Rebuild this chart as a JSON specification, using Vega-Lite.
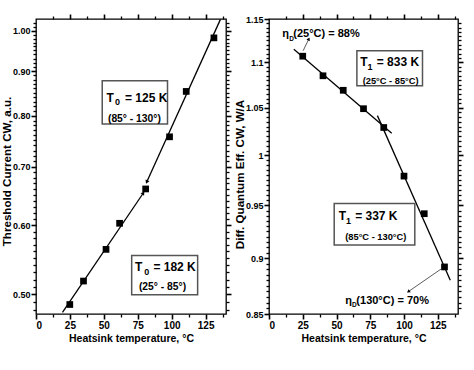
{
  "$schema": "https://vega.github.io/schema/vega-lite/v6.json",
  "background": "white",
  "padding": {"left": 0, "top": 12, "right": 0, "bottom": 0},
  "spacing": 0,
  "config": {
    "font": "Liberation Sans",
    "view": {"stroke": "black", "strokeWidth": 1.3},
    "axis": {
      "domain": false, "grid": false, "ticks": true,
      "labelFont": "Liberation Sans", "labelFontWeight": "bold", "labelFontSize": 10, "labelColor": "black",
      "titleFont": "Liberation Sans", "titleFontWeight": "bold", "titleColor": "black"
    },
    "text": {"font": "Liberation Sans", "fontWeight": "bold", "color": "black"}
  },
  "hconcat": [
    {
      "width": 190, "height": 295,
      "resolve": {"axis": {"x": "independent", "y": "independent"}},
      "layer": [
        {
          "data": {"values": [
            {"x": 24.9, "y": 0.487}, {"x": 35, "y": 0.518}, {"x": 51.6, "y": 0.563}, {"x": 61.6, "y": 0.603},
            {"x": 80.8, "y": 0.660}, {"x": 98.4, "y": 0.757}, {"x": 110.7, "y": 0.853}, {"x": 131.1, "y": 0.982}
          ]},
          "mark": {"type": "square", "filled": true, "color": "black", "size": 45, "opacity": 1},
          "encoding": {
            "x": {"field": "x", "type": "quantitative", "scale": {"domain": [0, 140], "nice": false, "zero": false},
              "axis": {"orient": "bottom", "values": [0, 25, 50, 75, 100, 125], "ticks": true, "tickColor": "#000000", "tickWidth": 1.6, "tickSize": 5, "labelPadding": 1,
                "title": "Heatsink temperature, °C", "titleFontSize": 10.5, "titlePadding": 3}},
            "y": {"field": "y", "type": "quantitative", "scale": {"type": "log", "domain": [0.475, 1.032], "nice": false},
              "axis": {"orient": "left", "values": [0.5, 0.6, 0.7, 0.8, 0.9, 1.0], "format": ".2f", "ticks": true, "tickColor": "#000000", "tickWidth": 1.6, "tickSize": 5, "labelPadding": 1, "labelFontSize": 9,
                "title": "Threshold Current CW, a.u.", "titleFontSize": 11.6, "titlePadding": 0, "titleY": 152}}
          }
        },
        {
          "data": {"values": [{"x": 24.9, "y": 0.487}, {"x": 131.1, "y": 0.982}]},
          "mark": {"type": "point", "opacity": 0},
          "encoding": {
            "x": {"field": "x", "type": "quantitative", "scale": {"domain": [0, 140], "nice": false, "zero": false},
              "axis": {"orient": "bottom", "values": [12.5, 37.5, 62.5, 87.5, 112.5, 137.5], "ticks": true, "tickColor": "#000000", "tickWidth": 1.3, "tickSize": 3, "labels": false, "title": null}},
            "y": {"field": "y", "type": "quantitative", "scale": {"type": "log", "domain": [0.475, 1.032], "nice": false},
              "axis": {"orient": "left", "values": [0.48, 0.49, 0.51, 0.52, 0.53, 0.54, 0.55, 0.56, 0.57, 0.58, 0.59, 0.61, 0.62, 0.63, 0.64, 0.65, 0.66, 0.67, 0.68, 0.69, 0.71, 0.72, 0.73, 0.74, 0.75, 0.76, 0.77, 0.78, 0.79, 0.81, 0.82, 0.83, 0.84, 0.85, 0.86, 0.87, 0.88, 0.89, 0.91, 0.92, 0.93, 0.94, 0.95, 0.96, 0.97, 0.98, 0.99, 1.01, 1.02], "ticks": true, "tickColor": "#000000", "tickWidth": 1.3, "tickSize": 3, "labels": false, "title": null}}
          }
        },
        {
          "data": {"values": [{"x": 24.9, "y": 0.487}, {"x": 131.1, "y": 0.982}]},
          "mark": {"type": "point", "opacity": 0},
          "encoding": {
            "x": {"field": "x", "type": "quantitative", "scale": {"domain": [0, 140], "nice": false, "zero": false},
              "axis": {"orient": "top", "values": [25, 50, 75, 100, 125], "ticks": true, "tickColor": "#000000", "tickWidth": 1.6, "tickSize": 5, "labels": false, "title": null}},
            "y": {"field": "y", "type": "quantitative", "scale": {"type": "log", "domain": [0.475, 1.032], "nice": false},
              "axis": {"orient": "right", "values": [0.5, 0.6, 0.7, 0.8, 0.9, 1.0], "ticks": true, "tickColor": "#000000", "tickWidth": 1.6, "tickSize": 5, "labels": false, "title": null}}
          }
        },
        {
          "data": {"values": [{"x": 24.9, "y": 0.487}, {"x": 131.1, "y": 0.982}]},
          "mark": {"type": "point", "opacity": 0},
          "encoding": {
            "x": {"field": "x", "type": "quantitative", "scale": {"domain": [0, 140], "nice": false, "zero": false},
              "axis": {"orient": "top", "values": [12.5, 37.5, 62.5, 87.5, 112.5, 137.5], "ticks": true, "tickColor": "#000000", "tickWidth": 1.3, "tickSize": 3, "labels": false, "title": null}},
            "y": {"field": "y", "type": "quantitative", "scale": {"type": "log", "domain": [0.475, 1.032], "nice": false},
              "axis": {"orient": "right", "values": [0.48, 0.49, 0.51, 0.52, 0.53, 0.54, 0.55, 0.56, 0.57, 0.58, 0.59, 0.61, 0.62, 0.63, 0.64, 0.65, 0.66, 0.67, 0.68, 0.69, 0.71, 0.72, 0.73, 0.74, 0.75, 0.76, 0.77, 0.78, 0.79, 0.81, 0.82, 0.83, 0.84, 0.85, 0.86, 0.87, 0.88, 0.89, 0.91, 0.92, 0.93, 0.94, 0.95, 0.96, 0.97, 0.98, 0.99, 1.01, 1.02], "ticks": true, "tickColor": "#000000", "tickWidth": 1.3, "tickSize": 3, "labels": false, "title": null}}
          }
        },
        {
          "data": {"values": [
            {"seg": "a", "x": 19.5, "y": 0.477}, {"seg": "a", "x": 79.1, "y": 0.653},
            {"seg": "b", "x": 81.6, "y": 0.672}, {"seg": "b", "x": 135.9, "y": 1.031}
          ]},
          "mark": {"type": "line", "color": "black", "strokeWidth": 1.3},
          "encoding": {
            "x": {"field": "x", "type": "quantitative", "scale": {"domain": [0, 140], "nice": false, "zero": false}, "axis": null},
            "y": {"field": "y", "type": "quantitative", "scale": {"type": "log", "domain": [0.475, 1.032], "nice": false}, "axis": null},
            "detail": {"field": "seg"}
          }
        },
        {
          "data": {"values": [{"x": 79.1, "y": 0.653}]},
          "mark": {"type": "point", "shape": "triangle-up", "filled": true, "color": "black", "size": 18, "angle": 34, "opacity": 1},
          "encoding": {
            "x": {"field": "x", "type": "quantitative", "scale": {"domain": [0, 140], "nice": false, "zero": false}, "axis": null},
            "y": {"field": "y", "type": "quantitative", "scale": {"type": "log", "domain": [0.475, 1.032], "nice": false}, "axis": null}
          }
        },
        {
          "data": {"values": [{"x": 81.6, "y": 0.672}]},
          "mark": {"type": "point", "shape": "triangle-up", "filled": true, "color": "black", "size": 18, "angle": 204, "opacity": 1},
          "encoding": {
            "x": {"field": "x", "type": "quantitative", "scale": {"domain": [0, 140], "nice": false, "zero": false}, "axis": null},
            "y": {"field": "y", "type": "quantitative", "scale": {"type": "log", "domain": [0.475, 1.032], "nice": false}, "axis": null}
          }
        },
        {
          "data": {"values": [
            {"x": 48.8, "x2": 96.9, "y": 0.783, "y2": 0.877},
            {"x": 70.5, "x2": 119.1, "y": 0.4997, "y2": 0.554}
          ]},
          "mark": {"type": "rect", "fill": "white", "stroke": "#555555", "strokeWidth": 1.5},
          "encoding": {
            "x": {"field": "x", "type": "quantitative", "scale": {"domain": [0, 140], "nice": false, "zero": false}, "axis": null},
            "x2": {"field": "x2"},
            "y": {"field": "y", "type": "quantitative", "scale": {"type": "log", "domain": [0.475, 1.032], "nice": false}, "axis": null},
            "y2": {"field": "y2"}
          }
        },
        {
          "data": {"values": [
            {"x": 52.0, "y": 0.839, "t": "T"}, {"x": 65.6, "y": 0.839, "t": "= 125 K"},
            {"x": 73.0, "y": 0.537, "t": "T"}, {"x": 86.5, "y": 0.537, "t": "= 182 K"}
          ]},
          "mark": {"type": "text", "fontSize": 12, "align": "left", "baseline": "middle"},
          "encoding": {
            "x": {"field": "x", "type": "quantitative", "scale": {"domain": [0, 140], "nice": false, "zero": false}, "axis": null},
            "y": {"field": "y", "type": "quantitative", "scale": {"type": "log", "domain": [0.475, 1.032], "nice": false}, "axis": null},
            "text": {"field": "t"}
          }
        },
        {
          "data": {"values": [
            {"x": 58.2, "y": 0.830, "t": "0"}, {"x": 79.7, "y": 0.531, "t": "0"}
          ]},
          "mark": {"type": "text", "fontSize": 9, "align": "left", "baseline": "middle"},
          "encoding": {
            "x": {"field": "x", "type": "quantitative", "scale": {"domain": [0, 140], "nice": false, "zero": false}, "axis": null},
            "y": {"field": "y", "type": "quantitative", "scale": {"type": "log", "domain": [0.475, 1.032], "nice": false}, "axis": null},
            "text": {"field": "t"}
          }
        },
        {
          "data": {"values": [
            {"x": 72.5, "y": 0.794, "t": "(85° - 130°)"}, {"x": 93.2, "y": 0.5098, "t": "(25° - 85°)"}
          ]},
          "mark": {"type": "text", "fontSize": 10.3, "align": "center", "baseline": "middle"},
          "encoding": {
            "x": {"field": "x", "type": "quantitative", "scale": {"domain": [0, 140], "nice": false, "zero": false}, "axis": null},
            "y": {"field": "y", "type": "quantitative", "scale": {"type": "log", "domain": [0.475, 1.032], "nice": false}, "axis": null},
            "text": {"field": "t"}
          }
        }
      ]
    },
    {
      "width": 189, "height": 295,
      "resolve": {"axis": {"x": "independent", "y": "independent"}},
      "layer": [
        {
          "data": {"values": [
            {"x": 25, "y": 1.107}, {"x": 40, "y": 1.085}, {"x": 55, "y": 1.069}, {"x": 70, "y": 1.049},
            {"x": 85, "y": 1.029}, {"x": 100, "y": 0.979}, {"x": 115, "y": 0.942}, {"x": 130, "y": 0.892}
          ]},
          "mark": {"type": "square", "filled": true, "color": "black", "size": 45, "opacity": 1},
          "encoding": {
            "x": {"field": "x", "type": "quantitative", "scale": {"domain": [0, 140], "nice": false, "zero": false},
              "axis": {"orient": "bottom", "values": [0, 25, 50, 75, 100, 125], "ticks": true, "tickColor": "#000000", "tickWidth": 1.6, "tickSize": 5, "labelPadding": 1,
                "title": "Heatsink temperature, °C", "titleFontSize": 10.5, "titlePadding": 3}},
            "y": {"field": "y", "type": "quantitative", "scale": {"type": "log", "domain": [0.85, 1.15], "nice": false},
              "axis": {"orient": "left", "values": [0.85, 0.9, 0.95, 1, 1.05, 1.1, 1.15], "format": "~g", "ticks": true, "tickColor": "#000000", "tickWidth": 1.6, "tickSize": 5, "labelPadding": 1, "labelFontSize": 9,
                "title": "Diff. Quantum Eff. CW, W/A", "titleFontSize": 11.6, "titlePadding": 0, "titleY": 155}}
          }
        },
        {
          "data": {"values": [{"x": 25, "y": 1.107}, {"x": 130, "y": 0.892}]},
          "mark": {"type": "point", "opacity": 0},
          "encoding": {
            "x": {"field": "x", "type": "quantitative", "scale": {"domain": [0, 140], "nice": false, "zero": false},
              "axis": {"orient": "bottom", "values": [12.5, 37.5, 62.5, 87.5, 112.5, 137.5], "ticks": true, "tickColor": "#000000", "tickWidth": 1.3, "tickSize": 3, "labels": false, "title": null}},
            "y": {"field": "y", "type": "quantitative", "scale": {"type": "log", "domain": [0.85, 1.15], "nice": false},
              "axis": {"orient": "left", "values": [0.855, 0.86, 0.865, 0.87, 0.875, 0.88, 0.885, 0.89, 0.895, 0.905, 0.91, 0.915, 0.92, 0.925, 0.93, 0.935, 0.94, 0.945, 0.955, 0.96, 0.965, 0.97, 0.975, 0.98, 0.985, 0.99, 0.995, 1.005, 1.01, 1.015, 1.02, 1.025, 1.03, 1.035, 1.04, 1.045, 1.055, 1.06, 1.065, 1.07, 1.075, 1.08, 1.085, 1.09, 1.095, 1.105, 1.11, 1.115, 1.12, 1.125, 1.13, 1.135, 1.14, 1.145], "ticks": true, "tickColor": "#000000", "tickWidth": 1.3, "tickSize": 3, "labels": false, "title": null}}
          }
        },
        {
          "data": {"values": [{"x": 25, "y": 1.107}, {"x": 130, "y": 0.892}]},
          "mark": {"type": "point", "opacity": 0},
          "encoding": {
            "x": {"field": "x", "type": "quantitative", "scale": {"domain": [0, 140], "nice": false, "zero": false},
              "axis": {"orient": "top", "values": [25, 50, 75, 100, 125], "ticks": true, "tickColor": "#000000", "tickWidth": 1.6, "tickSize": 5, "labels": false, "title": null}},
            "y": {"field": "y", "type": "quantitative", "scale": {"type": "log", "domain": [0.85, 1.15], "nice": false},
              "axis": {"orient": "right", "values": [0.9, 0.95, 1, 1.05, 1.1], "ticks": true, "tickColor": "#000000", "tickWidth": 1.6, "tickSize": 5, "labels": false, "title": null}}
          }
        },
        {
          "data": {"values": [{"x": 25, "y": 1.107}, {"x": 130, "y": 0.892}]},
          "mark": {"type": "point", "opacity": 0},
          "encoding": {
            "x": {"field": "x", "type": "quantitative", "scale": {"domain": [0, 140], "nice": false, "zero": false},
              "axis": {"orient": "top", "values": [12.5, 37.5, 62.5, 87.5, 112.5, 137.5], "ticks": true, "tickColor": "#000000", "tickWidth": 1.3, "tickSize": 3, "labels": false, "title": null}},
            "y": {"field": "y", "type": "quantitative", "scale": {"type": "log", "domain": [0.85, 1.15], "nice": false},
              "axis": {"orient": "right", "values": [0.855, 0.86, 0.865, 0.87, 0.875, 0.88, 0.885, 0.89, 0.895, 0.905, 0.91, 0.915, 0.92, 0.925, 0.93, 0.935, 0.94, 0.945, 0.955, 0.96, 0.965, 0.97, 0.975, 0.98, 0.985, 0.99, 0.995, 1.005, 1.01, 1.015, 1.02, 1.025, 1.03, 1.035, 1.04, 1.045, 1.055, 1.06, 1.065, 1.07, 1.075, 1.08, 1.085, 1.09, 1.095, 1.105, 1.11, 1.115, 1.12, 1.125, 1.13, 1.135, 1.14, 1.145], "ticks": true, "tickColor": "#000000", "tickWidth": 1.3, "tickSize": 3, "labels": false, "title": null}}
          }
        },
        {
          "data": {"values": [
            {"seg": "a", "x": 18.4, "y": 1.115}, {"seg": "a", "x": 90.9, "y": 1.023},
            {"seg": "b", "x": 80.3, "y": 1.0416}, {"seg": "b", "x": 134.3, "y": 0.880}
          ]},
          "mark": {"type": "line", "color": "black", "strokeWidth": 1.3},
          "encoding": {
            "x": {"field": "x", "type": "quantitative", "scale": {"domain": [0, 140], "nice": false, "zero": false}, "axis": null},
            "y": {"field": "y", "type": "quantitative", "scale": {"type": "log", "domain": [0.85, 1.15], "nice": false}, "axis": null},
            "detail": {"field": "seg"}
          }
        },
        {
          "data": {"values": [
            {"seg": "a", "x": 25.3, "y": 1.1132}, {"seg": "a", "x": 29.5, "y": 1.1267},
            {"seg": "b", "x": 103.2, "y": 0.8697}, {"seg": "b", "x": 127.7, "y": 0.8903}
          ]},
          "mark": {"type": "line", "color": "#333333", "strokeWidth": 0.8},
          "encoding": {
            "x": {"field": "x", "type": "quantitative", "scale": {"domain": [0, 140], "nice": false, "zero": false}, "axis": null},
            "y": {"field": "y", "type": "quantitative", "scale": {"type": "log", "domain": [0.85, 1.15], "nice": false}, "axis": null},
            "detail": {"field": "seg"}
          }
        },
        {
          "data": {"values": [{"x": 29.5, "y": 1.1267}]},
          "mark": {"type": "point", "shape": "triangle-up", "filled": true, "color": "black", "size": 14, "angle": 26, "opacity": 1},
          "encoding": {
            "x": {"field": "x", "type": "quantitative", "scale": {"domain": [0, 140], "nice": false, "zero": false}, "axis": null},
            "y": {"field": "y", "type": "quantitative", "scale": {"type": "log", "domain": [0.85, 1.15], "nice": false}, "axis": null}
          }
        },
        {
          "data": {"values": [{"x": 103.2, "y": 0.8697}]},
          "mark": {"type": "point", "shape": "triangle-up", "filled": true, "color": "black", "size": 14, "angle": 235, "opacity": 1},
          "encoding": {
            "x": {"field": "x", "type": "quantitative", "scale": {"domain": [0, 140], "nice": false, "zero": false}, "axis": null},
            "y": {"field": "y", "type": "quantitative", "scale": {"type": "log", "domain": [0.85, 1.15], "nice": false}, "axis": null}
          }
        },
        {
          "data": {"values": [
            {"x": 65.1, "x2": 113.7, "y": 1.074, "y2": 1.1133},
            {"x": 48.3, "x2": 108, "y": 0.9123, "y2": 0.952}
          ]},
          "mark": {"type": "rect", "fill": "white", "stroke": "#555555", "strokeWidth": 1.5},
          "encoding": {
            "x": {"field": "x", "type": "quantitative", "scale": {"domain": [0, 140], "nice": false, "zero": false}, "axis": null},
            "x2": {"field": "x2"},
            "y": {"field": "y", "type": "quantitative", "scale": {"type": "log", "domain": [0.85, 1.15], "nice": false}, "axis": null},
            "y2": {"field": "y2"}
          }
        },
        {
          "data": {"values": [
            {"x": 67.5, "y": 1.1, "t": "T"}, {"x": 79.8, "y": 1.1, "t": "= 833 K"},
            {"x": 51.6, "y": 0.9396, "t": "T"}, {"x": 63.8, "y": 0.9396, "t": "= 337 K"}
          ]},
          "mark": {"type": "text", "fontSize": 12, "align": "left", "baseline": "middle"},
          "encoding": {
            "x": {"field": "x", "type": "quantitative", "scale": {"domain": [0, 140], "nice": false, "zero": false}, "axis": null},
            "y": {"field": "y", "type": "quantitative", "scale": {"type": "log", "domain": [0.85, 1.15], "nice": false}, "axis": null},
            "text": {"field": "t"}
          }
        },
        {
          "data": {"values": [
            {"x": 72.9, "y": 1.0944, "t": "1"}, {"x": 57.0, "y": 0.9353, "t": "1"}
          ]},
          "mark": {"type": "text", "fontSize": 9, "align": "left", "baseline": "middle"},
          "encoding": {
            "x": {"field": "x", "type": "quantitative", "scale": {"domain": [0, 140], "nice": false, "zero": false}, "axis": null},
            "y": {"field": "y", "type": "quantitative", "scale": {"type": "log", "domain": [0.85, 1.15], "nice": false}, "axis": null},
            "text": {"field": "t"}
          }
        },
        {
          "data": {"values": [
            {"x": 90.1, "y": 1.0796, "t": "(25°C - 85°C)"}, {"x": 79.1, "y": 0.9198, "t": "(85°C - 130°C)"}
          ]},
          "mark": {"type": "text", "fontSize": 9.3, "align": "center", "baseline": "middle"},
          "encoding": {
            "x": {"field": "x", "type": "quantitative", "scale": {"domain": [0, 140], "nice": false, "zero": false}, "axis": null},
            "y": {"field": "y", "type": "quantitative", "scale": {"type": "log", "domain": [0.85, 1.15], "nice": false}, "axis": null},
            "text": {"field": "t"}
          }
        },
        {
          "data": {"values": [
            {"x": 9.8, "y": 1.1325, "t": "η"}, {"x": 18.0, "y": 1.1325, "t": "(25°C) = 88%"},
            {"x": 56.4, "y": 0.8613, "t": "η"}, {"x": 64.7, "y": 0.8613, "t": "(130°C) = 70%"}
          ]},
          "mark": {"type": "text", "fontSize": 11, "align": "left", "baseline": "middle"},
          "encoding": {
            "x": {"field": "x", "type": "quantitative", "scale": {"domain": [0, 140], "nice": false, "zero": false}, "axis": null},
            "y": {"field": "y", "type": "quantitative", "scale": {"type": "log", "domain": [0.85, 1.15], "nice": false}, "axis": null},
            "text": {"field": "t"}
          }
        },
        {
          "data": {"values": [
            {"x": 15.0, "y": 1.127, "t": "D"}, {"x": 61.4, "y": 0.8577, "t": "D"}
          ]},
          "mark": {"type": "text", "fontSize": 6.5, "align": "left", "baseline": "middle"},
          "encoding": {
            "x": {"field": "x", "type": "quantitative", "scale": {"domain": [0, 140], "nice": false, "zero": false}, "axis": null},
            "y": {"field": "y", "type": "quantitative", "scale": {"type": "log", "domain": [0.85, 1.15], "nice": false}, "axis": null},
            "text": {"field": "t"}
          }
        }
      ]
    }
  ]
}
